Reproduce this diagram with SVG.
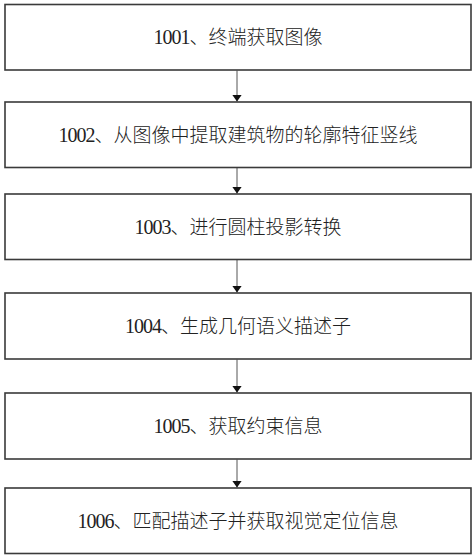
<svg xmlns="http://www.w3.org/2000/svg" width="474" height="558" viewBox="0 0 474 558">
<defs>
<style>
.box{fill:#fff;stroke:#3a3a3a;stroke-width:1.6}
.t{font-family:"Liberation Serif","Noto Sans CJK SC",serif;font-size:19px;fill:#222;text-anchor:middle}
.n{font-family:"Liberation Serif",serif;font-size:20px;letter-spacing:-1px}
.c{font-family:"Noto Sans CJK SC",sans-serif;font-weight:300}
.ln{stroke:#555;stroke-width:1;fill:none}
</style>
<marker id="ah" markerWidth="7" markerHeight="10" refX="7" refY="5" orient="auto" markerUnits="userSpaceOnUse" viewBox="0 0 7 10">
<path d="M0,0 L7,5 L0,10 Z" fill="#111"/>
</marker>
</defs>
<rect width="474" height="558" fill="#fff"/>
<g id="connectors">
<line class="ln" x1="237" y1="70.5" x2="237" y2="101.5" marker-end="url(#ah)"/>
<line class="ln" x1="237" y1="167.5" x2="237" y2="193.5" marker-end="url(#ah)"/>
<line class="ln" x1="237" y1="259.5" x2="237" y2="292.5" marker-end="url(#ah)"/>
<line class="ln" x1="237" y1="359.5" x2="237" y2="392.5" marker-end="url(#ah)"/>
<line class="ln" x1="237" y1="459.5" x2="237" y2="487.5" marker-end="url(#ah)"/>
</g>
<g id="n1001">
<rect class="box" x="5" y="4.5" width="466" height="65.5"/>
<text class="t" x="238" y="44"><tspan class="n">1001</tspan><tspan class="c">、终端获取图像</tspan></text>
</g>
<g id="n1002">
<rect class="box" x="5" y="102" width="466" height="65.5"/>
<text class="t" x="238" y="141.5"><tspan class="n">1002</tspan><tspan class="c">、从图像中提取建筑物的轮廓特征竖线</tspan></text>
</g>
<g id="n1003">
<rect class="box" x="5" y="194" width="466" height="65.5"/>
<text class="t" x="238" y="233.5"><tspan class="n">1003</tspan><tspan class="c">、进行圆柱投影转换</tspan></text>
</g>
<g id="n1004">
<rect class="box" x="5" y="293" width="466" height="66"/>
<text class="t" x="238" y="333"><tspan class="n">1004</tspan><tspan class="c">、生成几何语义描述子</tspan></text>
</g>
<g id="n1005">
<rect class="box" x="5" y="393" width="466" height="66"/>
<text class="t" x="238" y="433"><tspan class="n">1005</tspan><tspan class="c">、获取约束信息</tspan></text>
</g>
<g id="n1006">
<rect class="box" x="5" y="488" width="466" height="65.5"/>
<text class="t" x="238" y="527.5"><tspan class="n">1006</tspan><tspan class="c">、匹配描述子并获取视觉定位信息</tspan></text>
</g>
</svg>
